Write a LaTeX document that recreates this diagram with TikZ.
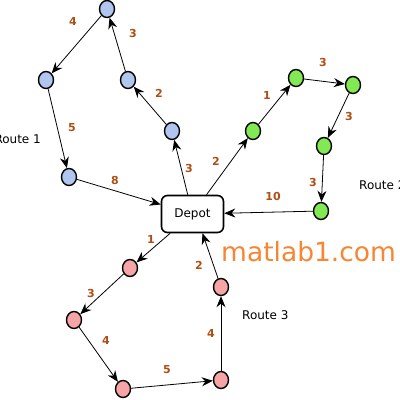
\documentclass[tikz,border=0pt]{standalone}
\usepackage{fontspec}
\setmainfont{DejaVu Sans}
\usetikzlibrary{shapes.geometric,arrows.meta}
\definecolor{bluen}{RGB}{176,198,238}
\definecolor{greenn}{RGB}{130,232,84}
\definecolor{redn}{RGB}{246,164,166}
\definecolor{lab}{RGB}{176,78,20}
\definecolor{wm}{RGB}{247,134,52}
\tikzset{
  vtx/.style={ellipse,draw=black,line width=1.4pt,minimum width=15pt,minimum height=17pt,inner sep=0pt},
  bv/.style={vtx,fill=bluen},
  gv/.style={vtx,fill=greenn},
  rv/.style={vtx,fill=redn},
  depotbox/.style={draw=black,line width=1.6pt,rounded corners=6pt,minimum width=62pt,minimum height=37pt,font=\fontsize{12}{14}\selectfont},
  arc/.style={-{Stealth[length=11pt,width=9pt]},line width=0.8pt},
  wt/.style={font=\fontsize{11}{12}\selectfont\bfseries,text=lab,inner sep=0pt},
  rlab/.style={font=\fontsize{12}{14}\selectfont,inner sep=0pt}
}
\begin{document}
\begin{tikzpicture}[x=1pt,y=-1pt]
\useasboundingbox[fill=white] (0,0) rectangle (400,400);
\node[depotbox] (dep) at (192.5,214) {Depot};
% Route 1
\node[bv] (b1) at (107,9) {};
\node[bv] (b2) at (46,80) {};
\node[bv] (b3) at (128,80) {};
\node[bv] (b4) at (172,131) {};
\node[bv] (b5) at (69,177) {};
% Route 2
\node[gv] (g1) at (253,131) {};
\node[gv] (g2) at (296,78) {};
\node[gv] (g3) at (353,85) {};
\node[gv] (g4) at (324,146) {};
\node[gv] (g5) at (321,211) {};
% Route 3
\node[rv] (r1) at (130,268) {};
\node[rv] (r2) at (74,320) {};
\node[rv] (r3) at (123,389) {};
\node[rv] (r4) at (221,380) {};
\node[rv] (r5) at (221,287) {};
% edges
\draw[arc] (dep) -- (b4);
\draw[arc] (b4) -- (b3);
\draw[arc] (b3) -- (b1);
\draw[arc] (b1) -- (b2);
\draw[arc] (b2) -- (b5);
\draw[arc] (b5) -- (dep);
\draw[arc] (dep) -- (g1);
\draw[arc] (g1) -- (g2);
\draw[arc] (g2) -- (g3);
\draw[arc] (g3) -- (g4);
\draw[arc] (g4) -- (g5);
\draw[arc] (g5) -- (dep);
\draw[arc] (dep) -- (r1);
\draw[arc] (r1) -- (r2);
\draw[arc] (r2) -- (r3);
\draw[arc] (r3) -- (r4);
\draw[arc] (r4) -- (r5);
\draw[arc] (r5) -- ([xshift=10pt]dep.south);
% weights
\node[wt] (w1) at (73,21) {4};
\node[wt] (w2) at (133,33) {3};
\node[wt] (w3) at (159,93) {2};
\node[wt] (w4) at (72,128) {5};
\node[wt] (w5) at (115,180) {8};
\node[wt] (w6) at (189,168) {3};
\node[wt] (w7) at (216,161) {2};
\node[wt] (w8) at (267,95) {1};
\node[wt] (w9) at (323,62) {3};
\node[wt] (w10) at (349,116) {3};
\node[wt] (w11) at (313,182) {3};
\node[wt] (w12) at (273,196) {10};
\node[wt] (w13) at (151,239) {1};
\node[wt] (w14) at (199,265) {2};
\node[wt] (w15) at (91,293) {3};
\node[wt] (w16) at (106,340) {4};
\node[wt] (w17) at (167,370) {5};
\node[wt] (w18) at (211,333) {4};
% route labels
\node[rlab,anchor=east] (rt1) at (41,139) {Route 1};
\node[rlab,anchor=west] (rt2) at (359,185) {Route 2};
\node[rlab,anchor=west] (rt3) at (242,315) {Route 3};
\node[font=\fontsize{26.5}{30}\selectfont,text=wm,anchor=base west,inner sep=0pt] (wmk) at (221,261) {matlab1.com};
\end{tikzpicture}
\end{document}
